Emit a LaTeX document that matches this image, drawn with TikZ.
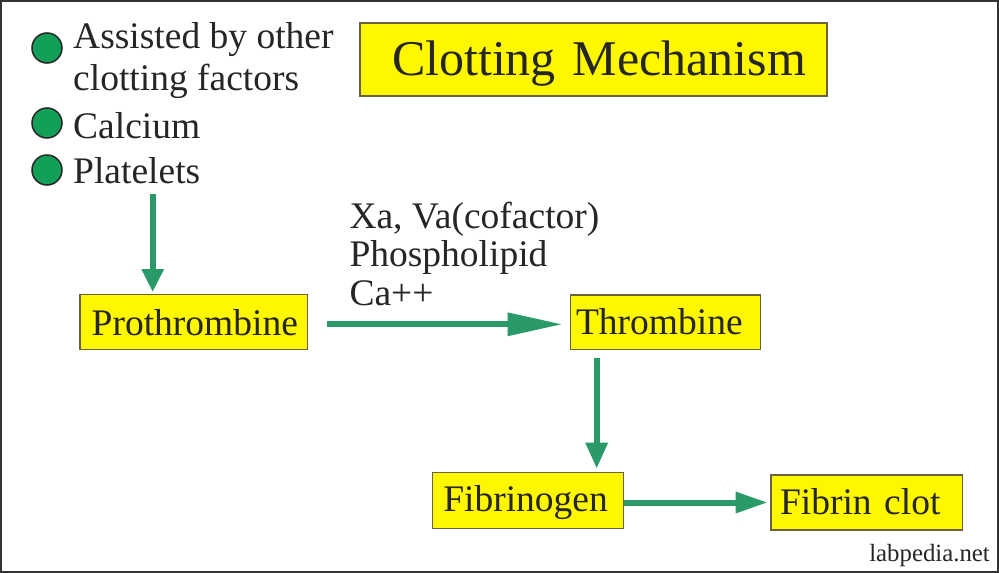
\documentclass[tikz,border=0pt]{standalone}
\usepackage{fontspec}
\setmainfont{Liberation Serif}
\usetikzlibrary{arrows.meta}
\definecolor{txt}{HTML}{262626}
\definecolor{boxfill}{HTML}{FFF700}
\definecolor{boxline}{HTML}{6B6242}
\definecolor{arrcol}{HTML}{2A9A68}
\definecolor{bullfill}{HTML}{12A058}
\definecolor{framecol}{HTML}{333333}
\tikzset{
 body/.style={font=\fontsize{37.5}{45}\selectfont, text=txt, inner sep=0pt},
 ybox/.style={body, draw=boxline, fill=boxfill, line width=1.2pt, inner ysep=0pt, align=left},
 flow/.style={draw=arrcol, line width=6pt},
 bull/.style={circle, draw=black!85, fill=bullfill, line width=1.5pt, minimum size=30pt, inner sep=0pt},
}
\begin{document}
\begin{tikzpicture}[x=1pt,y=-1pt]
\fill[white] (0,0) rectangle (999,573);
\useasboundingbox (0,0) rectangle (999,573);
\draw[framecol, line width=2pt] (1,1) rectangle (998,572);

% title
\node[ybox, font=\fontsize{50}{60}\selectfont, inner xsep=32pt, text width=403pt, text height=52pt, text depth=21pt] (title) at (593.5,59.5) {\mbox{Clotting Mechanism}};

% bullets
\node[bull] (b1) at (47,48) {};
\node[bull] (b2) at (47,123) {};
\node[bull] (b3) at (47,170) {};
\node[body, anchor=base west] (t1a) at (73,48) {Assisted by other};
\node[body, anchor=base west] (t1b) at (73,90.7) {clotting factors};
\node[body, anchor=base west] (t2) at (73,138) {Calcium};
\node[body, anchor=base west] (t3) at (73,183) {Platelets};

% boxes
\node[ybox, inner xsep=11.7pt, text width=203.9pt, text height=40.7pt, text depth=14.3pt] (pro) at (193.65,321.8) {\mbox{Prothrombine}};
\node[ybox, inner xsep=5.3pt, text width=179.4pt, text height=39.3pt, text depth=15pt] (thr) at (665.7,322.15) {\mbox{Thrombine}};
\node[ybox, inner xsep=11pt, text width=169pt, text height=38.3pt, text depth=17.3pt] (fib) at (527.8,500.5) {\mbox{Fibrinogen}};
\node[ybox, inner xsep=9pt, text width=173.3pt, text height=39.3pt, text depth=15.7pt] (fc) at (866.65,502.5) {\mbox{Fibrin clot}};

% cofactor labels
\node[body, anchor=base west] (l1) at (349.3,228.3) {Xa, Va(cofactor)};
\node[body, anchor=base west] (l2) at (349.3,266.7) {Phospholipid};
\node[body, anchor=base west] (l3) at (349.3,305) {Ca++};

% arrows
\coordinate (p1) at (152.7,194);
\draw[flow, -{Triangle[length=23pt,width=21pt]}, shorten >=1.6pt] (p1) -- (p1 |- pro.north);
\draw[flow, -{Triangle[length=55pt,width=22pt]}, shorten <=18.7pt, shorten >=7.4pt] ([yshift=-2.5pt]pro.east) -- ([yshift=-2.5pt]pro.east -| thr.west);
\coordinate (q1) at ([xshift=26.6pt]thr.south west);
\draw[flow, -{Triangle[length=26pt,width=21pt]}, shorten <=8.4pt, shorten >=3.4pt] (q1) -- (q1 |- fib.north);
\draw[flow, -{Triangle[length=32pt,width=20pt]}, shorten >=2.7pt] (fib.east |- fc.west) -- (fc.west);

\node[font=\fontsize{24.8}{30}\selectfont, text=txt, anchor=base east, inner sep=0pt] (lab) at (990,561.7) {labpedia.net};
\end{tikzpicture}
\end{document}
